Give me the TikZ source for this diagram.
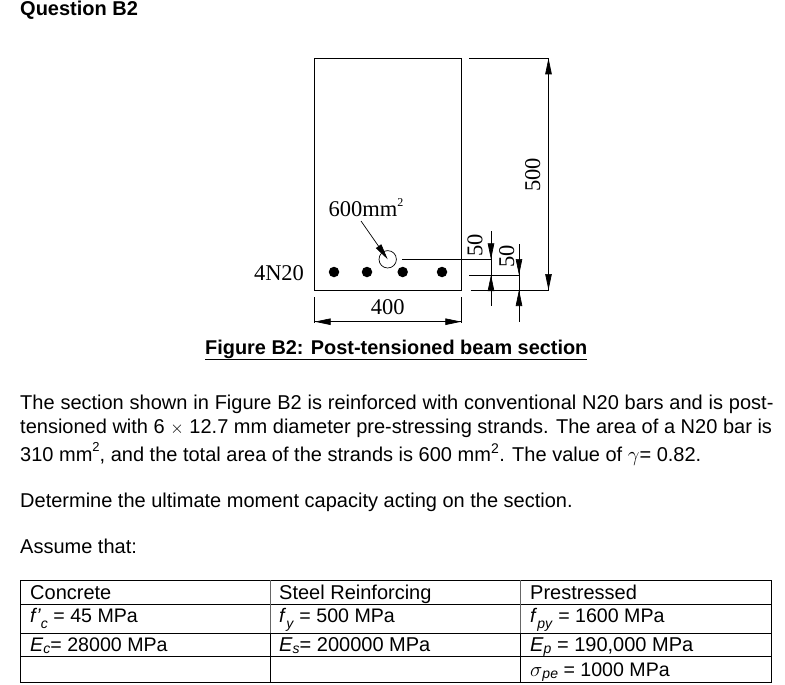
\documentclass[tikz,border=0pt]{standalone}
\usepackage{fontspec}
\setmainfont{Liberation Sans}
\newfontfamily\figfont{Liberation Serif}
\usetikzlibrary{arrows.meta}

\newcommand{\dropsub}[2]{\raisebox{#1}{\fontsize{14}{14}\selectfont\textit{#2}}}
\newcommand{\raisesq}[2]{\raisebox{#1}{\fontsize{13}{13}\selectfont #2}}

\tikzset{
  txt/.style={anchor=base west, inner sep=0pt, font=\fontsize{20}{24}\selectfont},
  cell/.style={anchor=base west, inner sep=0pt, font=\fontsize{19.6}{24}\selectfont},
  fig/.style={inner sep=0pt, font=\fontsize{22.5}{24}\figfont},
  dim/.style={line width=0.7pt},
  dimarrow/.style={line width=0.7pt, -{Triangle[length=16pt,width=6.5pt]}},
  bar/.style={circle, fill=black, inner sep=0pt, minimum size=10.5pt},
}

\begin{document}
\begin{tikzpicture}[x=1pt, y=-1pt]
\useasboundingbox (0,0) rectangle (785,685);

\node[txt, font=\fontsize{20}{24}\selectfont\bfseries] (title) at (20,16) {Question B2};

% beam section
\node[draw, line width=0.8pt, minimum width=146.6pt, minimum height=231.7pt, inner sep=0pt] (beam) at (388,174.2) {};
\foreach \i/\x in {1/334, 2/367, 3/402.7, 4/442} {
  \node[bar] (bar\i) at (\x,272) {};
}
\node[draw, circle, line width=0.7pt, minimum size=17.4pt, inner sep=0pt] (duct) at (387.7,259.3) {};
\node[fig] (n20) at (279,272.7) {4N20};
\node[fig] (area) at (366,208) {600mm\raisebox{10pt}{\fontsize{12}{12}\figfont 2}};
\coordinate (leader) at (361,221);
\draw[dimarrow] (leader) -- (duct.center);

% dimension lines
\coordinate (ductend) at (402.3,259.3);
\coordinate (a1) at (491,231);
\coordinate (a2) at (491,259.3);
\coordinate (a3) at (491,275);
\coordinate (a4) at (491,305.7);
\coordinate (b1) at (519,244);
\coordinate (b2) at (519,275);
\coordinate (b3) at (519,290);
\coordinate (b4) at (519,321.7);
\coordinate (h1) at (469.3,275);
\coordinate (h2) at (470.7,290);
\coordinate (c1) at (548.5,58.3);
\coordinate (c2) at (548.5,290);
\coordinate (c0) at (469,58.3);
\draw[dim] (ductend) -- (a2);
\draw[dim] (h1) -- (b2);
\draw[dim] (h2) -- (c2);
\draw[dim] (c0) -- (c1);
\draw[dim] (a1) -- (a4);
\draw[dim] (b1) -- (b4);
\draw[dimarrow] (a1) -- (a2);
\draw[dimarrow] (a4) -- (a3);
\draw[dimarrow] (b1) -- (b2);
\draw[dimarrow] (b4) -- (b3);
\draw[dimarrow] (c1) -- (c2);
\draw[dimarrow] (c2) -- (c1);
\node[fig, rotate=90] (d50a) at (475,245) {50};
\node[fig, rotate=90] (d50b) at (506.7,256.7) {50};
\node[fig, rotate=90] (d500) at (532.7,175) {500};

\coordinate (e1) at (314.7,297.3);
\coordinate (e2) at (314.7,323);
\coordinate (e3) at (461.3,297.3);
\coordinate (e4) at (461.3,323);
\coordinate (w1) at (314.7,321.7);
\coordinate (w2) at (461.3,321.7);
\draw[dim] (e1) -- (e2);
\draw[dim] (e3) -- (e4);
\draw[dimarrow] (w1) -- (w2);
\draw[dimarrow] (w2) -- (w1);
\node[fig] (d400) at (387.7,306.7) {400};

\node[txt, font=\fontsize{19.9}{24}\selectfont\bfseries] (caption) at (205,354) {\underline{Figure B2: Post-tensioned beam section}};

% text
\node[txt] (line1) at (20,409) {\spaceskip=5.85pt The section shown in Figure B2 is reinforced with conventional N20 bars and is post-};
\node[txt] (line2) at (20,433.5) {\spaceskip=5.6pt tensioned with 6 {\fontsize{18}{18}\selectfont$\times$} 12.7 mm diameter pre-stressing strands. The area of a N20 bar is};
\node[txt] (line3) at (20,461) {310 mm\raisesq{10pt}{2}, and the total area of the strands is 600 mm\textsuperscript{2}. The value of $\gamma$= 0.82.};
\node[txt] (line4) at (20,507) {Determine the ultimate moment capacity acting on the section.};
\node[txt] (line5) at (20,553) {Assume that:};

% table
\draw[line width=0.8pt] (20,580) rectangle (771.7,682.3);
\foreach \y in {604.3, 633.3, 656.3} {
  \draw[line width=0.8pt] (20,\y) -- (771.7,\y);
}
\foreach \x in {270, 520.7} {
  \draw[line width=0.8pt, black!60] (\x,580) -- (\x,633.3);
  \draw[line width=0.8pt] (\x,633.3) -- (\x,682.3);
}
\node[txt] (conc) at (30,599.5) {Concrete};
\node[cell] (fc) at (30,622.7) {\textit{f'}\dropsub{-6pt}{c} = 45 MPa};
\node[cell] (ec) at (30,651.7) {\textit{E}\dropsub{-2pt}{c}= 28000 MPa};
\node[txt] (steel) at (279,599.5) {Steel Reinforcing};
\node[cell] (fy) at (279,622.7) {\textit{f}\dropsub{-6pt}{y} = 500 MPa};
\node[txt] (es) at (279,651.7) {\textit{E}\dropsub{-2pt}{s}= 200000 MPa};
\node[txt] (pre) at (530,599.5) {Prestressed};
\node[cell] (fpy) at (530,622.7) {\textit{f}\dropsub{-6pt}{py} = 1600 MPa};
\node[txt] (ep) at (530,651.7) {\textit{E}\dropsub{-2pt}{p} = 190,000 MPa};
\node[cell] (spe) at (530,676) {$\sigma$\dropsub{-2pt}{pe} = 1000 MPa};
\end{tikzpicture}
\end{document}
